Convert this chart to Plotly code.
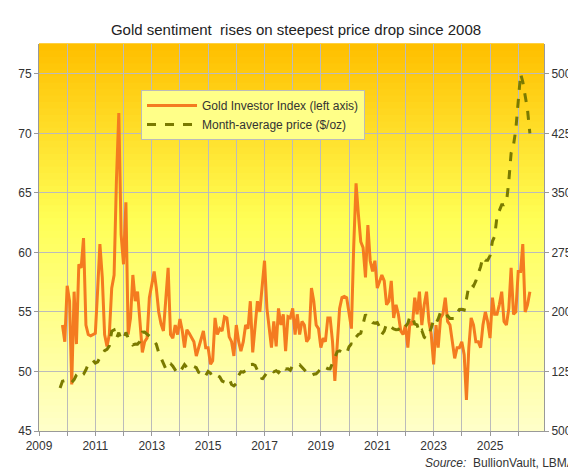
import pandas as pd
import plotly.graph_objects as go

# Gold Investor Index (left axis), monthly from Nov 2009
index_vals = [
    53.9, 52.5, 57.2, 55.9, 48.9, 56.7, 52.3, 59.0, 58.7, 61.2, 53.9, 53.1,
    53.0, 53.1, 53.2, 57.0, 60.7, 57.9, 53.1, 52.1, 53.1, 57.0, 58.1, 66.0, 71.7, 61.5,
    59.0, 64.2, 53.1, 54.5, 58.1, 55.9, 56.7, 54.2, 51.6, 52.5, 52.8, 56.2, 57.5,
    58.4, 57.0, 55.0, 54.0, 53.4, 56.0, 58.7, 53.1, 52.8, 53.9, 53.1, 54.4, 53.4, 52.0, 53.5,
    53.2, 52.8, 52.5, 51.3, 52.0, 52.5, 53.4, 52.0, 52.0, 50.6, 50.9, 54.5, 53.1,
    53.6, 53.4, 54.6, 54.5, 52.9, 52.5, 51.3, 53.9, 52.5, 51.7, 52.5, 53.9,
    53.6, 55.9, 51.6, 53.6, 55.9, 55.0, 57.0, 59.3, 55.3, 53.9, 52.0, 54.2,
    52.1, 55.3, 53.9, 54.8, 51.7, 54.6, 54.5, 55.3, 53.1,
    54.8, 53.1, 54.2, 53.9, 52.5, 52.8, 57.0, 55.9, 53.9, 53.6, 52.0, 52.8,
    52.5, 54.5, 54.5, 52.5, 49.2, 52.0, 55.3, 56.2, 56.3, 56.2, 55.0, 53.6,
    60.4, 65.8, 63.2, 60.9, 60.4, 57.9, 62.3, 59.3, 58.4, 59.3, 57.0, 57.6,
    58.1, 57.6, 55.6, 55.9, 57.6, 54.5, 55.6, 54.8, 53.4, 53.1, 53.9, 52.0,
    54.2, 53.9, 56.2, 54.8, 56.7, 53.9, 55.6, 56.7, 54.2, 53.1, 50.6, 53.9,
    52.0, 54.5, 54.8, 56.2, 54.2, 53.9, 52.5, 51.1, 52.0, 52.0, 52.5, 51.4,
    47.6, 52.0, 54.5, 53.9, 52.5, 52.5, 52.0, 53.9, 55.0, 54.2, 52.8, 56.2,
    54.8, 54.8, 55.6, 56.7, 54.2, 53.9, 55.3, 58.7, 54.8, 55.0, 58.4, 58.4,
    60.7, 55.0, 55.6, 56.7,
]

# Month-average gold price ($/oz, right axis), Oct 2009 - Jun 2026
price_vals = [
    1043, 1127, 1134,
    1117, 1095, 1113, 1148, 1205, 1232, 1193, 1215, 1271, 1342, 1370, 1391,
    1356, 1372, 1424, 1474, 1512, 1529, 1572, 1756, 1772, 1665, 1739, 1652,
    1656, 1742, 1673, 1650, 1585, 1596, 1594, 1626, 1744, 1747, 1721, 1688,
    1670, 1627, 1593, 1487, 1414, 1343, 1286, 1352, 1349, 1316, 1275, 1225,
    1244, 1300, 1336, 1299, 1288, 1279, 1311, 1297, 1239, 1222, 1176, 1200,
    1251, 1227, 1179, 1198, 1199, 1181, 1130, 1117, 1125, 1159, 1086, 1068,
    1097, 1200, 1246, 1242, 1260, 1276, 1337, 1340, 1326, 1266, 1238, 1151,
    1192, 1234, 1231, 1266, 1246, 1260, 1236, 1283, 1314, 1280, 1283, 1265,
    1331, 1331, 1325, 1335, 1303, 1282, 1238, 1202, 1198, 1215, 1220, 1250,
    1291, 1320, 1300, 1285, 1283, 1359, 1413, 1500, 1510, 1495, 1470, 1479,
    1560, 1597, 1591, 1683, 1715, 1732, 1846, 1968, 1921, 1900, 1866, 1858,
    1867, 1808, 1718, 1760, 1850, 1834, 1807, 1785, 1775, 1777, 1821, 1790,
    1817, 1856, 1948, 1937, 1849, 1836, 1733, 1765, 1681, 1664, 1726, 1798,
    1898, 1855, 1912, 1999, 1992, 1942, 1951, 1918, 1916, 1916, 1985, 2032,
    2034, 2024, 2160, 2330, 2350, 2325, 2390, 2470, 2570, 2690, 2650, 2650,
    2710, 2890, 2950, 3200, 3280, 3350, 3350, 3370, 3650, 4000, 4100, 4300,
    4650, 5000, 4900, 4700, 4550, 4250,
]

index_dates = pd.date_range(start="2009-11-01", periods=len(index_vals), freq="MS")
price_dates = pd.date_range(start="2009-10-01", periods=len(price_vals), freq="MS")

years = list(range(2009, 2027))
year_labels = [str(y) if y % 2 == 1 else "" for y in years]
left_ticks = [45, 50, 55, 60, 65, 70, 75]
right_ticks = [500, 1250, 2000, 2750, 3500, 4250, 5000]

fig = go.Figure()

# background gradient: orange at top -> yellow -> pale yellow at bottom
n = 60
for i in range(n):
    t = i / (n - 1)  # 0 bottom, 1 top
    if t < 0.55:
        s = t / 0.55
        c = (255, 255, int(200 - 115 * s))
    else:
        s = (t - 0.55) / 0.45
        c = (255, int(255 - 63 * s), int(85 - 85 * s))
    fig.add_shape(type="rect", xref="paper", yref="paper", layer="below",
                  x0=0, x1=1, y0=i / n, y1=(i + 1) / n + 0.002,
                  fillcolor="rgb(%d,%d,%d)" % c, line_width=0)

fig.add_trace(go.Scatter(x=index_dates, y=index_vals, name="Gold Investor Index (left axis)",
                         mode="lines", line=dict(color="#F47B20", width=3)))
fig.add_trace(go.Scatter(x=price_dates, y=price_vals, name="Month-average price ($/oz)",
                         mode="lines", yaxis="y2", line=dict(color="#7A7A00", width=3, dash="dash")))

font = dict(family="Liberation Sans, Arial", color="#333333", size=12)
fig.update_layout(
    width=576, height=472,
    margin=dict(l=31, r=40, t=36, b=49, autoexpand=False),
    paper_bgcolor="white", plot_bgcolor="rgba(0,0,0,0)",
    font=font,
    title=dict(text="Gold sentiment  rises on steepest price drop since 2008", x=0.5, y=0.965,
               xanchor="center", font=dict(size=15, color="#222222")),
    xaxis=dict(range=["2009-01-01", "2026-12-01"], tickvals=[f"{y}-01-01" for y in years],
               ticktext=year_labels, showgrid=True, gridcolor="#BBBBBB", ticks="outside",
               ticklen=4, tickcolor="#999999", linecolor="#999999", showline=True,
               automargin=False),
    yaxis=dict(range=[45, 77.5], tickvals=left_ticks, showgrid=True, gridcolor="#BBBBBB",
               ticks="outside", ticklen=4, tickcolor="#999999", linecolor="#999999",
               showline=True, zeroline=False, automargin=False),
    yaxis2=dict(range=[500, 5375], tickvals=right_ticks, overlaying="y", side="right",
                showgrid=False, ticks="outside", ticklen=4, tickcolor="#999999",
                linecolor="#999999", showline=True, zeroline=False, automargin=False),
    legend=dict(x=0.202, y=0.881, xanchor="left", yanchor="top", bgcolor="#FFFF88",
                bordercolor="#BBBBBB", borderwidth=1, font=dict(size=12, color="#333333"),
                itemwidth=50, tracegroupgap=4),
    showlegend=True,
)

fig.add_annotation(text="<i>Source:</i>  BullionVault, LBMA", xref="paper", yref="paper",
                   x=1.065, y=-0.083, xanchor="right", yanchor="middle", showarrow=False,
                   font=dict(size=12, color="#333333"))

fig.write_html("out.html")
